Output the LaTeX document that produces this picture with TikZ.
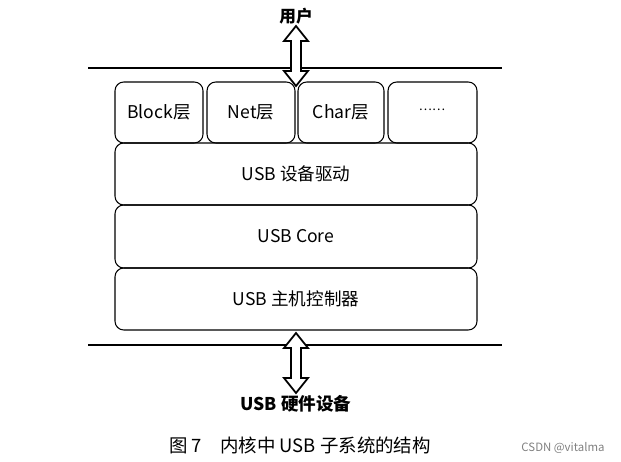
\documentclass[tikz,border=0pt]{standalone}
\usepackage{fontspec}
\setmainfont{Noto Sans CJK SC}
\begin{document}
\begin{tikzpicture}[x=0.02cm,y=-0.02cm,
  box/.style={draw,line width=0.6pt,rounded corners=5pt,inner sep=0},
  lbl/.style={font=\fontsize{10}{12}\selectfont},
  darr/.style={draw,line width=1pt,fill=white,line join=miter}]
\useasboundingbox (0,0) rectangle (621,462);
\draw[line width=1pt] (88,68) -- (502,68);
\draw[line width=1.6pt] (88,345) -- (502,345);
\foreach \c/\ya/\yb in {a1/26/86,a2/333/393}{
  \coordinate (\c) at (296,{(\ya+\yb)/2});
  \draw[darr] (296,\ya) -- (308,\ya+15) -- (301,\ya+15) -- (301,\yb-15) -- (308,\yb-15)
    -- (296,\yb) -- (284,\yb-15) -- (291,\yb-15) -- (291,\ya+15) -- (284,\ya+15) -- cycle;
}
\node[font=\bfseries\fontsize{9.5}{11}\selectfont] (user) at (296,16) {用户};
\node[font=\bfseries\fontsize{10}{12}\selectfont] (hw) at (296,404) {USB 硬件设备};
\foreach \n/\xa/\xb/\t in {b/115/203/Block层,n/207/295/Net层,c/298/384/Char层}{
  \draw[box] (\xa,82) rectangle (\xb,143);
  \node[lbl] (\n) at ({(\xa+\xb)/2},112) {\t};
}
\draw[box] (388,82) rectangle (477,143);
\node[font=\fontsize{7}{8}\selectfont] (d) at (432,110) {……};
\draw[box] (115,143) rectangle (477,205);
\node[lbl] (drv) at (296,174) {USB 设备驱动};
\draw[box] (115,205) rectangle (477,268);
\node[lbl] (core) at (296,236) {USB Core};
\draw[box] (115,268) rectangle (477,330);
\node[lbl] (hc) at (296,299) {USB 主机控制器};
\node[font=\fontsize{10.5}{12}\selectfont] (cap) at (300,445) {图 7\quad 内核中 USB 子系统的结构};
\node[font=\fontsize{6.5}{8}\selectfont,text=gray] (csdn) at (563,448) {CSDN @vitalma};
\end{tikzpicture}
\end{document}
